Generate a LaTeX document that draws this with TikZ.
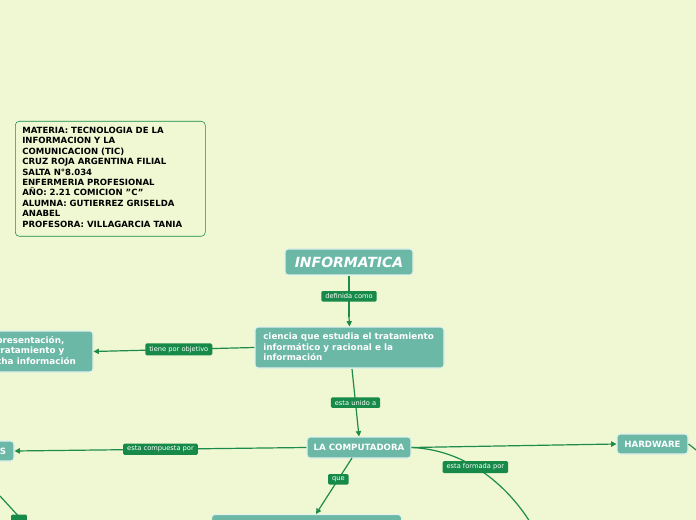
\documentclass[tikz,border=0pt]{standalone}
\usepackage{fontspec}
\setmainfont{DejaVu Sans}
\usetikzlibrary{arrows.meta}
\definecolor{bg}{HTML}{EFF8D2}
\definecolor{nodef}{HTML}{6BB8A6}
\definecolor{lab}{HTML}{178A4A}
\definecolor{edge}{HTML}{1E8A4C}
\tikzset{x=0.75pt,y=-0.75pt,
 topic/.style={draw=white!80!nodef,line width=0.8pt,fill=nodef,rounded corners=2.5pt,text=white,font=\bfseries\fontsize{6.5}{7}\selectfont,inner sep=0pt},
 lbl/.style={fill=lab,rounded corners=1pt,text=white,font=\fontsize{5}{5.5}\selectfont,inner xsep=3pt,inner ysep=2pt},
 con/.style={draw=edge,line width=0.9pt},
 arr/.style={con,-{Triangle[length=4pt,width=4pt]}}}
\begin{document}
\begin{tikzpicture}
\useasboundingbox (0,0) rectangle (696,520);
\fill[bg] (0,0) rectangle (696,520);
\clip (0,0) rectangle (696,520);
% info box
\node[draw=lab,fill=bg,rounded corners=3pt,minimum width=190*0.75pt,minimum height=115*0.75pt,anchor=north west,inner sep=0pt] (info) at (15,121) {};
\node[anchor=north west,align=left,font=\bfseries\fontsize{6.4}{7.8}\selectfont,inner sep=0pt] (infotext) at (22,127) {MATERIA: TECNOLOGIA DE LA\\INFORMACION Y LA\\COMUNICACION (TIC)\\CRUZ ROJA ARGENTINA FILIAL\\SALTA N°8.034\\ENFERMERIA PROFESIONAL\\AÑO: 2.21 COMICION "C"\\ALUMNA: GUTIERREZ GRISELDA\\ANABEL\\PROFESORA: VILLAGARCIA TANIA};
% nodes
\node[topic,minimum width=128*0.75pt,minimum height=26*0.75pt,font=\bfseries\itshape\fontsize{10.5}{12}\selectfont] (inf) at (349,262) {INFORMATICA};
\node[topic,minimum width=189*0.75pt,minimum height=41*0.75pt] (cien) at (349.5,347.5) {};
\node[anchor=north west,align=left,text=white,font=\bfseries\fontsize{6.6}{7.8}\selectfont,inner sep=0pt] (ciet) at (263,333) {ciencia que estudia el tratamiento\\informático y racional e la\\información};
\node[topic,minimum width=150*0.75pt,minimum height=41*0.75pt] (obj) at (18,351.5) {};
\node[anchor=north west,align=left,text=white,font=\bfseries\fontsize{6.6}{7.8}\selectfont,inner sep=0pt] (objt) at (-4,336) {presentación,\\tratamiento y\\cha información};
\node[topic,minimum width=104*0.75pt,minimum height=21*0.75pt] (comp) at (359,447.5) {LA COMPUTADORA};
\node[topic,minimum width=50*0.75pt,minimum height=20*0.75pt] (s) at (-11,451) {};
\node[text=white,font=\bfseries\fontsize{6.5}{7}\selectfont,inner sep=0pt] (st) at (3,451) {S};
\node[topic,minimum width=71*0.75pt,minimum height=20*0.75pt] (hw) at (652.5,444) {HARDWARE};
\node[topic,minimum width=190*0.75pt,minimum height=30*0.75pt,anchor=north west] (bot) at (211,514) {};
\coordinate (sd) at (22,520);
\coordinate (hwo) at (705,457);
\coordinate (fo) at (530,522);
% connectors
\draw[con] (inf) -- node[lbl] {definida como} (349,317) ;
\draw[arr] (349,317) -- (cien.north);
\draw[arr] (cien.west) -- node[lbl,pos=0.47] {tiene por objetivo} (obj.east);
\draw[arr] (352,369) -- node[lbl,pos=0.5] {esta unido a} (comp.north);
\draw[arr] (comp.west) -- node[lbl,pos=0.5] {esta compuesta por} (s.east);
\draw[arr] (comp.east) -- (hw.west);
\draw[arr] (352,458) -- node[lbl,pos=0.38] {que} (316,514);
\draw[con] (comp.east) .. controls (470,450) and (510,490) .. node[lbl,pos=0.42] {esta formada por\hspace{8pt}} (fo);
\draw[con] (0,496) -- (sd);
\node[lbl] (cut) at (19,519) {\phantom{xx}};
\draw[con] (hw.east) -- (hwo);
\end{tikzpicture}
\end{document}
